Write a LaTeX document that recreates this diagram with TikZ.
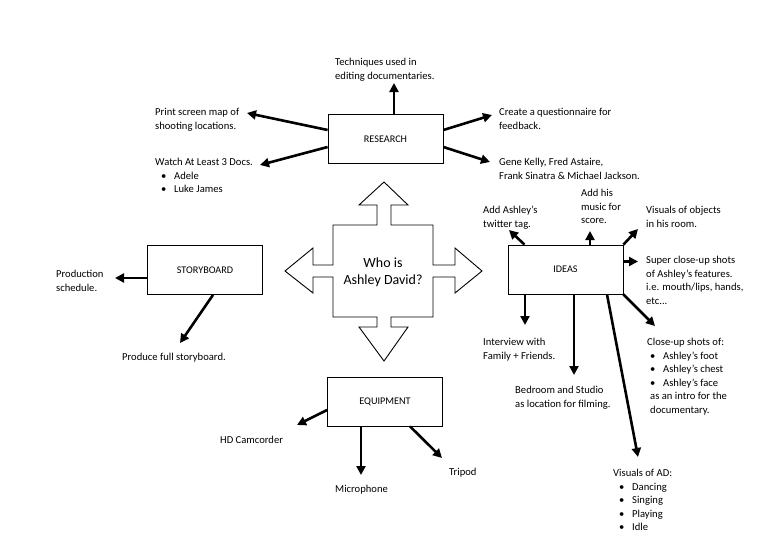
\documentclass[tikz,border=0pt]{standalone}
\usepackage{fontspec}
\setmainfont{Carlito}
\usetikzlibrary{arrows.meta}
\newcommand{\bul}[2][6pt]{\hspace*{#1}\makebox[13pt][l]{\textbullet}#2}

\begin{document}
\begin{tikzpicture}[x=1pt,y=-1pt,
  box/.style={draw,line width=0.8pt,minimum width=115pt,minimum height=49pt,inner sep=2pt,font=\fontsize{10.2}{12}\selectfont},
  note/.style={anchor=north west,inner sep=0pt,align=left,font=\fontsize{10.6}{13.6}\selectfont},
  arr/.style={-{Triangle[length=9pt,width=9pt]},line width=2.6pt}]
  \useasboundingbox (0,0) rectangle (768,543);
  % the four headings
  \node[box] (res) at (385.5,139) {RESEARCH};
  \node[box] (story) at (205,270) {STORYBOARD};
  \node[box] (ideas) at (565.5,269.5) {IDEAS};
  \node[box] (equip) at (385,401.5) {EQUIPMENT};
  % centre cross
  \draw[line width=0.9pt,line join=miter]
    (384,182) -- (408,205) -- (391,205) -- (391,225) -- (433,225) -- (433,265) -- (455,265)
    -- (455,248) -- (482,271) -- (455,293) -- (455,277) -- (433,277) -- (433,317) -- (391,317)
    -- (391,327) -- (408,327) -- (384,361) -- (359,327) -- (377,327) -- (377,317) -- (333,317)
    -- (333,277) -- (313,277) -- (313,293) -- (285,271) -- (313,248) -- (313,265) -- (333,265)
    -- (333,225) -- (377,225) -- (377,205) -- (359,205) -- cycle;
  \node[align=center,font=\fontsize{14}{17}\selectfont] (who) at (383,272) {Who is\\Ashley David?};
  % research notes
  \node[note] (tech) at (335,58) {Techniques used in\\editing documentaries.};
  \node[note] (print) at (155,108) {Print screen map of\\shooting locations.};
  \node[note] (watch) at (155,158) {Watch At Least 3 Docs.\\\bul{Adele}\\\bul{Luke James}};
  \node[note] (quest) at (499,108) {Create a questionnaire for\\feedback.};
  \node[note] (gene) at (499,158) {Gene Kelly, Fred Astaire,\\Frank Sinatra \& Michael Jackson.};
  \coordinate (tTech) at (394,83);
  \coordinate (tPrint) at (247,113);
  \coordinate (tWatch) at (260,165);
  \coordinate (tQuest) at (492,115);
  \coordinate (tGene) at (490,162);
  \draw[arr] ([xshift=8.5pt]res.north) -- (tTech);
  \draw[arr] ([yshift=9pt]res.west) -- (tPrint);
  \draw[arr] ([yshift=-8pt]res.west) -- (tWatch);
  \draw[arr] ([yshift=9pt]res.east) -- (tQuest);
  \draw[arr] ([yshift=-8pt]res.east) -- (tGene);
  % storyboard notes
  \node[note] (sched) at (56,270) {Production\\schedule.};
  \node[note] (full) at (122,353) {Produce full storyboard.};
  \coordinate (tSched) at (115,278);
  \coordinate (tFull) at (180,343);
  \draw[arr] ([yshift=-8pt]story.west) -- (tSched);
  \draw[arr] ([xshift=8pt]story.south) -- (tFull);
  % ideas notes
  \node[note] (tag) at (483,206) {Add Ashley’s\\twitter tag.};
  \node[note] (music) at (581,189) {Add his\\music for\\score.};
  \node[note] (room) at (646,206) {Visuals of objects\\in his room.};
  \node[note] (super) at (646,256) {Super close-up shots\\of Ashley’s features.\\i.e. mouth/lips, hands,\\etc...};
  \node[note] (close) at (647,338) {Close-up shots of:\\\bul[3pt]{Ashley’s foot}\\\bul[3pt]{Ashley’s chest}\\\bul[3pt]{Ashley’s face}\\\hspace*{3pt}as an intro for the\\\hspace*{3pt}documentary.};
  \node[note] (family) at (483,338) {Interview with\\Family + Friends.};
  \node[note] (studio) at (515,386) {Bedroom and Studio\\as location for filming.};
  \node[note] (visad) at (613,469) {Visuals of AD:\\\bul{Dancing}\\\bul{Singing}\\\bul{Playing}\\\bul{Idle}};
  \coordinate (tTag) at (509,230);
  \coordinate (tMusic) at (590,231);
  \coordinate (tRoom) at (638,229);
  \coordinate (tSuper) at (638,261.5);
  \coordinate (tClose) at (655,326);
  \coordinate (tFamily) at (525,325);
  \coordinate (tStudio) at (574,375);
  \coordinate (tVisad) at (638,457);
  \draw[arr] ([xshift=-41pt]ideas.north) -- (tTag);
  \draw[arr] ([xshift=24.5pt]ideas.north) -- (tMusic);
  \draw[arr] (ideas.north east) -- (tRoom);
  \draw[arr] ([yshift=8pt]ideas.east) -- (tSuper);
  \draw[arr] (ideas.south east) -- (tClose);
  \draw[arr] ([xshift=-40.5pt]ideas.south) -- (tFamily);
  \draw[arr] ([xshift=8.5pt]ideas.south) -- (tStudio);
  \draw[arr] ([xshift=41.5pt]ideas.south) -- (tVisad);
  % equipment notes
  \node[note] (cam) at (220,436) {HD Camcorder};
  \node[note] (mic) at (335,485) {Microphone};
  \node[note] (tri) at (449,468) {Tripod};
  \coordinate (tCam) at (297,425);
  \coordinate (tMic) at (361,475);
  \coordinate (tTri) at (442,458);
  \draw[arr] ([yshift=-8.5pt]equip.west) -- (tCam);
  \draw[arr] ([xshift=-24pt]equip.south) -- (tMic);
  \draw[arr] ([xshift=25pt]equip.south) -- (tTri);
\end{tikzpicture}
\end{document}
